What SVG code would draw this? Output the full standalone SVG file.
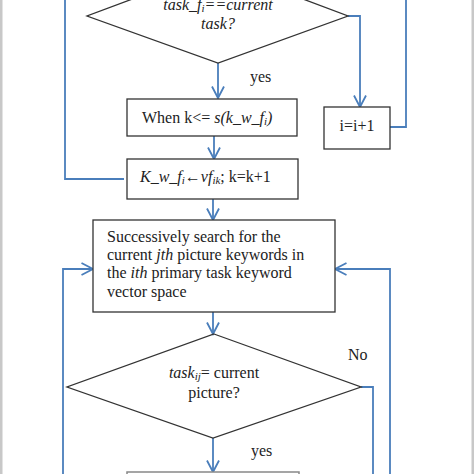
<svg xmlns="http://www.w3.org/2000/svg" width="474" height="474" viewBox="0 0 474 474">
<defs>
<style>
.box{fill:#fff;stroke:#333;stroke-width:1.3}
.dia{fill:none;stroke:#333;stroke-width:1.3}
.con{fill:none;stroke:#4a7ebb;stroke-width:1.8}
.t{font-family:"Liberation Serif","Times New Roman",serif;font-size:16px;fill:#222}
.i{font-style:italic}
.sub{font-size:11px}
.frame{fill:#c8c8c8}
</style>
<marker id="arr" markerUnits="userSpaceOnUse" viewBox="0 0 14 14" refX="12.5" refY="7" markerWidth="14" markerHeight="14" orient="auto">
<path d="M1,1 L12.5,7 L1,13" fill="none" stroke="#4a7ebb" stroke-width="1.8"/>
</marker>
</defs>
<rect width="474" height="474" fill="#fff"/>
<rect class="frame" x="0" y="0" width="2.5" height="474"/>
<rect class="frame" x="471.5" y="0" width="2.5" height="474"/>

<g id="connectors">
<path class="con" d="M218,63 V98" marker-end="url(#arr)"/>
<path class="con" d="M348,16 H360 V107" marker-end="url(#arr)"/>
<path class="con" d="M390,127 H406 V-5"/>
<path class="con" d="M65,-5 V179 H124"/>
<path class="con" d="M214,136 V159" marker-end="url(#arr)"/>
<path class="con" d="M213,199 V220" marker-end="url(#arr)"/>
<path class="con" d="M63,480 V269 H93" marker-end="url(#arr)"/>
<path class="con" d="M390,480 V269 H335" marker-end="url(#arr)"/>
<path class="con" d="M213,312 V334" marker-end="url(#arr)"/>
<path class="con" d="M361,387 H373 V480"/>
<path class="con" d="M213,438 V472" marker-end="url(#arr)"/>
</g>

<g id="decision1">
<polygon class="dia" points="218,-33 348,16 218,63 87,16"/>
<text class="t i" x="218" y="10" text-anchor="middle">task_f<tspan class="sub" dy="2">i</tspan><tspan dy="-2">==current</tspan></text>
<text class="t i" x="218" y="29" text-anchor="middle">task?</text>
</g>
<text class="t" x="250" y="82">yes</text>

<g id="when">
<rect class="box" x="127" y="99" width="170" height="37"/>
<text class="t" x="142" y="123">When k&lt;= <tspan class="i">s(k_w_f</tspan><tspan class="i sub" dy="2">i</tspan><tspan class="i" dy="-2">)</tspan></text>
</g>

<g id="inc">
<rect class="box" x="324" y="107" width="66" height="42"/>
<text class="t" x="357" y="131" text-anchor="middle">i=i+1</text>
</g>

<g id="assign">
<rect class="box" x="127" y="159" width="171" height="40"/>
<text class="t" x="140" y="182"><tspan class="i">K_w_f</tspan><tspan class="i sub" dy="2">i</tspan><tspan dy="-2">←</tspan><tspan class="i">vf</tspan><tspan class="i sub" dy="2">ik</tspan><tspan dy="-2">; k=k+1</tspan></text>
</g>

<g id="search">
<rect class="box" x="93" y="220" width="242" height="92"/>
<text class="t" x="107" y="242">Successively search for the</text>
<text class="t" x="107" y="260">current <tspan class="i">jth</tspan> picture keywords in</text>
<text class="t" x="107" y="278">the <tspan class="i">ith</tspan> primary task keyword</text>
<text class="t" x="107" y="297">vector space</text>
</g>

<g id="decision2">
<polygon class="dia" points="214,334 361,387 213,438 67,387"/>
<text class="t" x="214" y="378" text-anchor="middle"><tspan class="i">task</tspan><tspan class="i sub" dy="2">ij</tspan><tspan dy="-2">= current</tspan></text>
<text class="t" x="214" y="398" text-anchor="middle">picture?</text>
</g>
<text class="t" x="348" y="360">No</text>
<text class="t" x="251" y="456">yes</text>

<g id="next">
<rect x="127" y="472" width="172" height="20" fill="#fff" stroke="#888" stroke-width="1.5"/>
</g>
</svg>
